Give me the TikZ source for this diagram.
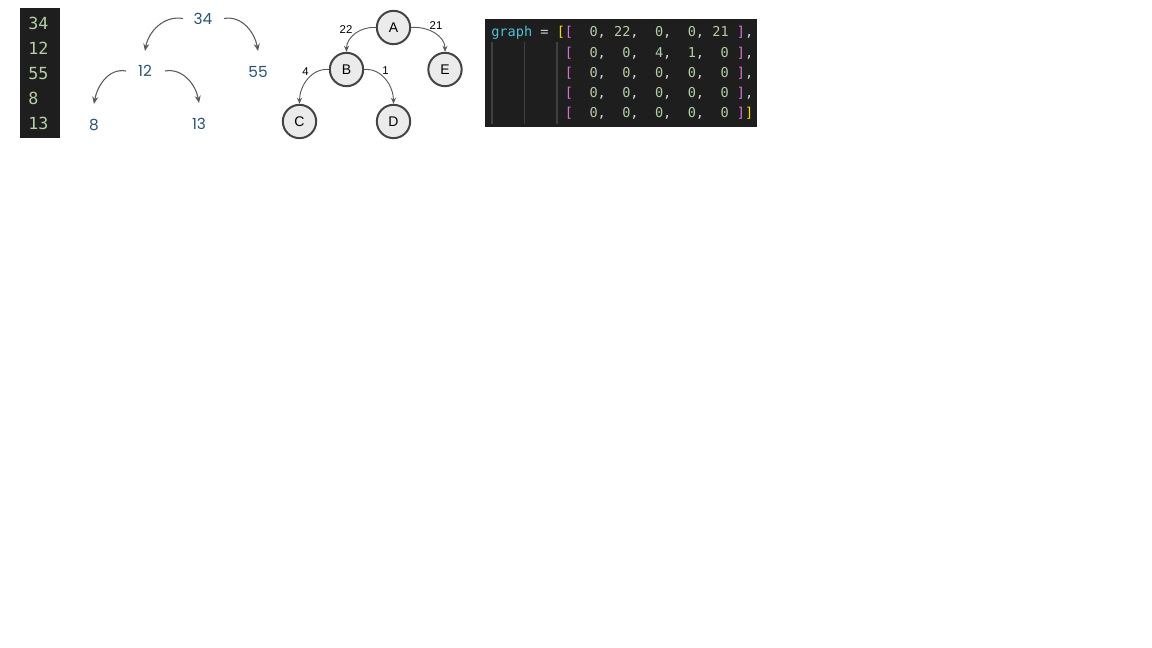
\documentclass[tikz,border=0pt]{standalone}
\usepackage{fontspec}
\setmainfont{Liberation Sans}
\newfontfamily\codefont{DejaVu Sans Mono}
\newfontfamily\treefont{Poppins}
\usetikzlibrary{arrows.meta}
\definecolor{codebg}{HTML}{1E1E1E}
\definecolor{codenum}{HTML}{B5CEA8}
\definecolor{codeid}{HTML}{4FC1D6}
\definecolor{codetxt}{HTML}{D4D4D4}
\definecolor{brgold}{HTML}{FFD700}
\definecolor{brpink}{HTML}{DA70D6}
\definecolor{guide}{HTML}{404040}
\definecolor{treeblue}{HTML}{2C5273}
\definecolor{arrowgray}{HTML}{5A5A5A}
\definecolor{nodefill}{HTML}{EBEBEB}
\definecolor{nodeedge}{HTML}{444444}
\tikzset{
  listnum/.style={anchor=west, inner sep=0pt, text=codenum, font=\codefont\fontsize{12.5pt}{14pt}\selectfont},
  codeline/.style={anchor=west, inner sep=0pt, text=codetxt, font=\codefont\fontsize{10.2pt}{12pt}\selectfont},
  treenum/.style={inner sep=0pt, text=treeblue, font=\treefont\fontsize{11.5pt}{13pt}\selectfont},
  treearrow/.style={draw=arrowgray, line width=0.8pt, -{Stealth[length=5.5pt,width=4.5pt]}},
  gnode/.style={circle, draw=nodeedge, fill=nodefill, line width=1.5pt, minimum size=25pt, inner sep=0pt, font=\fontsize{10.5pt}{12pt}\selectfont},
  gedge/.style={draw=arrowgray, line width=0.7pt, -{Stealth[length=4.5pt,width=3.8pt]}},
  elabel/.style={inner sep=0pt, font=\fontsize{8.5pt}{10pt}\selectfont}
}
\newcommand{\Nm}[1]{\textcolor{codenum}{#1}}
\newcommand{\Bg}{\textcolor{brgold}}
\newcommand{\Bp}{\textcolor{brpink}}
\begin{document}
\begin{tikzpicture}[x=0.75pt, y=-0.75pt]
\useasboundingbox (0,0) rectangle (1152,648);
% list box
\fill[codebg] (20,8) rectangle (60,138);
\node[listnum] (l1) at (28,23) {34};
\node[listnum] (l2) at (28,48.5) {12};
\node[listnum] (l3) at (28,73.5) {55};
\node[listnum] (l4) at (28,98.5) {8};
\node[listnum] (l5) at (28,123.5) {13};
% tree of numbers
\node[treenum] (t34) at (203,19) {34};
\node[treenum] (t12) at (145,71) {12};
\node[treenum] (t55) at (258,72) {55};
\node[treenum] (t8) at (94,125) {8};
\node[treenum] (t13) at (199,124) {13};
\coordinate (t34l) at (183,18.5);
\coordinate (t34r) at (224,18.5);
\coordinate (t12l) at (126,71);
\coordinate (t12r) at (165,71);
\coordinate (e12) at (145,51);
\coordinate (e55) at (258,51);
\coordinate (e8) at (94,104);
\coordinate (e13) at (199,103);
\draw[treearrow] (t34l) to[out=170, in=80] (e12);
\draw[treearrow] (t34r) to[out=10, in=100] (e55);
\draw[treearrow] (t12l) to[out=170, in=80] (e8);
\draw[treearrow] (t12r) to[out=10, in=100] (e13);
% graph
\node[gnode] (A) at (393.5,27.5) {A};
\node[gnode] (B) at (346.5,69.5) {B};
\node[gnode] (E) at (445,69.5) {E};
\node[gnode] (C) at (299.5,121.5) {C};
\node[gnode] (D) at (393.5,121.5) {D};
\draw[gedge] (A.180) to[out=175, in=90] (B.90);
\draw[gedge] (A.0) to[out=5, in=90] (E.90);
\draw[gedge] (B.180) to[out=175, in=90] (C.90);
\draw[gedge] (B.0) to[out=5, in=90] (D.90);
\node[elabel] (w22) at (346,29.5) {22};
\node[elabel] (w21) at (436,25.5) {21};
\node[elabel] (w4) at (305.5,72) {4};
\node[elabel] (w1) at (385.5,70.5) {1};
% code box
\fill[codebg] (485,19) rectangle (757,127);
\draw[guide, line width=0.8pt] (492,42) -- (492,124);
\draw[guide, line width=0.8pt] (524.5,42) -- (524.5,124);
\draw[guide, line width=0.8pt] (557,42) -- (557,124);
\node[codeline] (c1) at (491,33) {\textcolor{codeid}{graph}~=~\Bg{[}\Bp{[}~~\Nm{0},~\Nm{22},~~\Nm{0},~~\Nm{0},~\Nm{21}~\Bp{]},};
\node[codeline] (c2) at (491,53) {~~~~~~~~~\Bp{[}~~\Nm{0},~~\Nm{0},~~\Nm{4},~~\Nm{1},~~\Nm{0}~\Bp{]},};
\node[codeline] (c3) at (491,73) {~~~~~~~~~\Bp{[}~~\Nm{0},~~\Nm{0},~~\Nm{0},~~\Nm{0},~~\Nm{0}~\Bp{]},};
\node[codeline] (c4) at (491,93) {~~~~~~~~~\Bp{[}~~\Nm{0},~~\Nm{0},~~\Nm{0},~~\Nm{0},~~\Nm{0}~\Bp{]},};
\node[codeline] (c5) at (491,113) {~~~~~~~~~\Bp{[}~~\Nm{0},~~\Nm{0},~~\Nm{0},~~\Nm{0},~~\Nm{0}~\Bp{]}\Bg{]}};
\end{tikzpicture}
\end{document}
